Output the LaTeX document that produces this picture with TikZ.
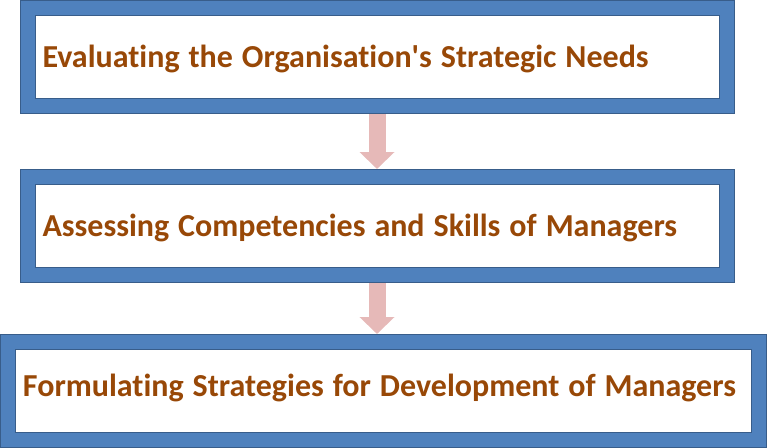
\documentclass[tikz,border=0pt]{standalone}
\usepackage{fontspec}
\setmainfont{Carlito}[Ligatures={NoCommon}]
\usepackage{tikz}
\usetikzlibrary{arrows.meta}
\usetikzlibrary{positioning}
\definecolor{bandblue}{HTML}{4F81BD}
\definecolor{edgeblue}{HTML}{385D8A}
\definecolor{arrowpink}{HTML}{E6B9B8}
\definecolor{textbrown}{HTML}{984807}
\newcommand{\stagetext}[1]{\mbox{\spaceskip=0.28em\relax #1}}

\begin{document}
\begin{tikzpicture}[x=1pt, y=-1pt, node distance=55pt, auto,
    stage/.style={draw=edgeblue, line width=1pt, double=bandblue, double distance=14pt,
        fill=white, rectangle, minimum height=98pt, outer sep=8pt,
        inner xsep=15pt, align=left, text=textbrown,
        font=\fontsize{32}{38}\selectfont\bfseries,
        text height=20.5pt, text depth=0pt},
    flow/.style={draw=arrowpink, line width=17pt, -{Triangle[width=34pt, length=17pt]}}]

    \useasboundingbox (0,0) rectangle (768,447);

    % Stages
    \node [stage, minimum width=699pt, text width=669pt] (needs) at (377,57) {\stagetext{Evaluating the Organisation\textquotesingle s Strategic Needs}};
    \node [stage, below=of needs, minimum width=699pt, text width=669pt] (skills) {\stagetext{Assessing Competencies and Skills of Managers}};
    \node [stage, below=51pt of skills, xshift=6.5pt, minimum width=751pt, text width=721pt, text depth=9pt] (plans) {\stagetext{Formulating Strategies for Development of Managers}};

    % Block arrows
    \draw [flow] (needs) -- (skills);
    \draw [flow] (skills.south) -- (skills.south |- plans.north);

\end{tikzpicture}
\end{document}
